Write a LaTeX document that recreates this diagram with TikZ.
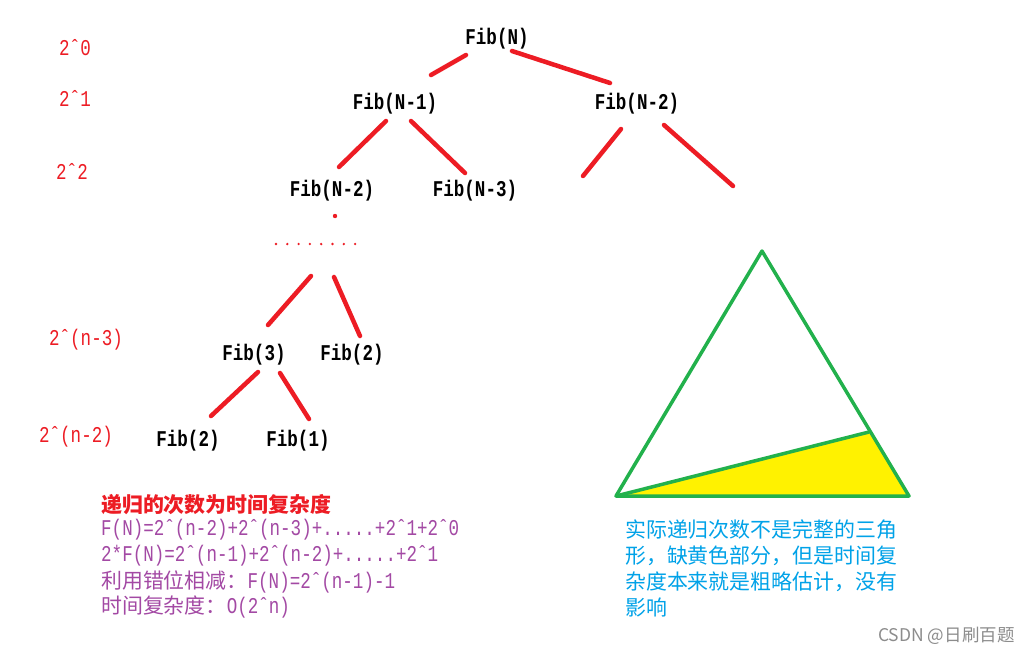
\documentclass[tikz,border=0pt]{standalone}
\usepackage{fontspec}
\setmainfont{Liberation Mono}[FakeStretch=0.78]
\newfontfamily\cjk[Scale=0.93]{Noto Sans CJK SC}
\newfontfamily\wmfont{Noto Sans CJK SC}
\definecolor{pred}{HTML}{ED1C24}
\definecolor{pgreen}{HTML}{22B14C}
\definecolor{pyellow}{HTML}{FFF200}
\definecolor{ppurple}{HTML}{A349A4}
\definecolor{pblue}{HTML}{00A2E8}
\begin{document}
\begin{tikzpicture}[x=1pt,y=-1pt,
  fib/.style={font=\fontsize{22.5}{24}\selectfont\bfseries, inner sep=0pt},
  lvl/.style={text=pred, font=\fontsize{22.5}{24}\selectfont, inner sep=0pt},
  txt/.style={anchor=west, font=\fontsize{22.5}{24}\selectfont, inner sep=0pt},
  edge/.style={draw=pred, line width=4.5pt, line cap=round},
  tri/.style={draw=pgreen, line width=3.5pt, line join=round}]
\useasboundingbox (0,0) rectangle (1030,654);
\fill[white] (0,0) rectangle (1030,654);

% level labels
\node[lvl] (l0) at (75,48) {2ˆ0};
\node[lvl] (l1) at (75,98) {2ˆ1};
\node[lvl] (l2) at (72,171) {2ˆ2};
\node[lvl] (l3) at (86,340) {2ˆ(n-3)};
\node[lvl] (l4) at (76,437) {2ˆ(n-2)};

% tree nodes
\node[fib] (fn) at (497,39) {Fib(N)};
\node[fib] (fn1) at (395,104) {Fib(N-1)};
\node[fib] (fn2r) at (637,104) {Fib(N-2)};
\node[fib] (fn2l) at (332,191) {Fib(N-2)};
\node[fib] (fn3) at (475,191) {Fib(N-3)};
\node[fib] (f3) at (254,355) {Fib(3)};
\node[fib] (f2m) at (352,355) {Fib(2)};
\node[fib] (f2b) at (188,441) {Fib(2)};
\node[fib] (f1) at (298,441) {Fib(1)};

% edge end points
\coordinate (a1) at (431,75); \coordinate (a2) at (466,55);
\coordinate (b1) at (512,51); \coordinate (b2) at (610,83);
\coordinate (c1) at (386,121); \coordinate (c2) at (339,167);
\coordinate (d1) at (411,121); \coordinate (d2) at (465,173);
\coordinate (e1) at (621,129); \coordinate (e2) at (583,176);
\coordinate (g1) at (664,125); \coordinate (g2) at (733,186);
\coordinate (h1) at (311,276); \coordinate (h2) at (268,325);
\coordinate (i1) at (334,277); \coordinate (i2) at (360,336);
\coordinate (j1) at (258,372); \coordinate (j2) at (211,416);
\coordinate (k1) at (280,373); \coordinate (k2) at (309,419);

\draw[edge] (a1) -- (a2);
\draw[edge] (b1) -- (b2);
\draw[edge] (c1) -- (c2);
\draw[edge] (d1) -- (d2);
\draw[edge] (e1) -- (e2);
\draw[edge] (g1) -- (g2);
\draw[edge] (h1) -- (h2);
\draw[edge] (i1) -- (i2);
\draw[edge] (j1) -- (j2);
\draw[edge] (k1) -- (k2);

% dots
\fill[pred] (335,216) circle (2.2);
\foreach \k in {0,...,7} \fill[pred] (276+\k*11.3,244) circle (1.3);

% triangle
\coordinate (ta) at (762,251);
\coordinate (tl) at (616,496);
\coordinate (tr) at (909,496);
\coordinate (tm) at (869,432);
\fill[pyellow] (tl) -- (tm) -- (tr) -- cycle;
\draw[tri] (ta) -- (tl) -- (tr) -- cycle;
\draw[tri] (tl) -- (tm);

% explanation text
\node[txt, text=pred] (t0) at (101,505) {\cjk\bfseries 递归的次数为时间复杂度};
\node[txt, text=ppurple] (t1) at (101,530) {F(N)=2ˆ(n-2)+2ˆ(n-3)+.....+2ˆ1+2ˆ0};
\node[txt, text=ppurple] (t2) at (101,556) {2*F(N)=2ˆ(n-1)+2ˆ(n-2)+.....+2ˆ1};
\node[txt, text=ppurple] (t3) at (101,582) {{\cjk 利用错位相减：}F(N)=2ˆ(n-1)-1};
\node[txt, text=ppurple] (t4) at (101,607) {{\cjk 时间复杂度：}O(2ˆn)};

\node[txt, text=pblue] (u1) at (625,530) {\cjk 实际递归次数不是完整的三角};
\node[txt, text=pblue] (u2) at (625,556) {\cjk 形，缺黄色部分，但是时间复};
\node[txt, text=pblue] (u3) at (625,582) {\cjk 杂度本来就是粗略估计，没有};
\node[txt, text=pblue] (u4) at (625,607) {\cjk 影响};

\node[anchor=west, inner sep=0pt, text=black!45, font=\wmfont\fontsize{17.5}{19}\selectfont] (wm) at (878,636) {CSDN @日刷百题};
\end{tikzpicture}
\end{document}
